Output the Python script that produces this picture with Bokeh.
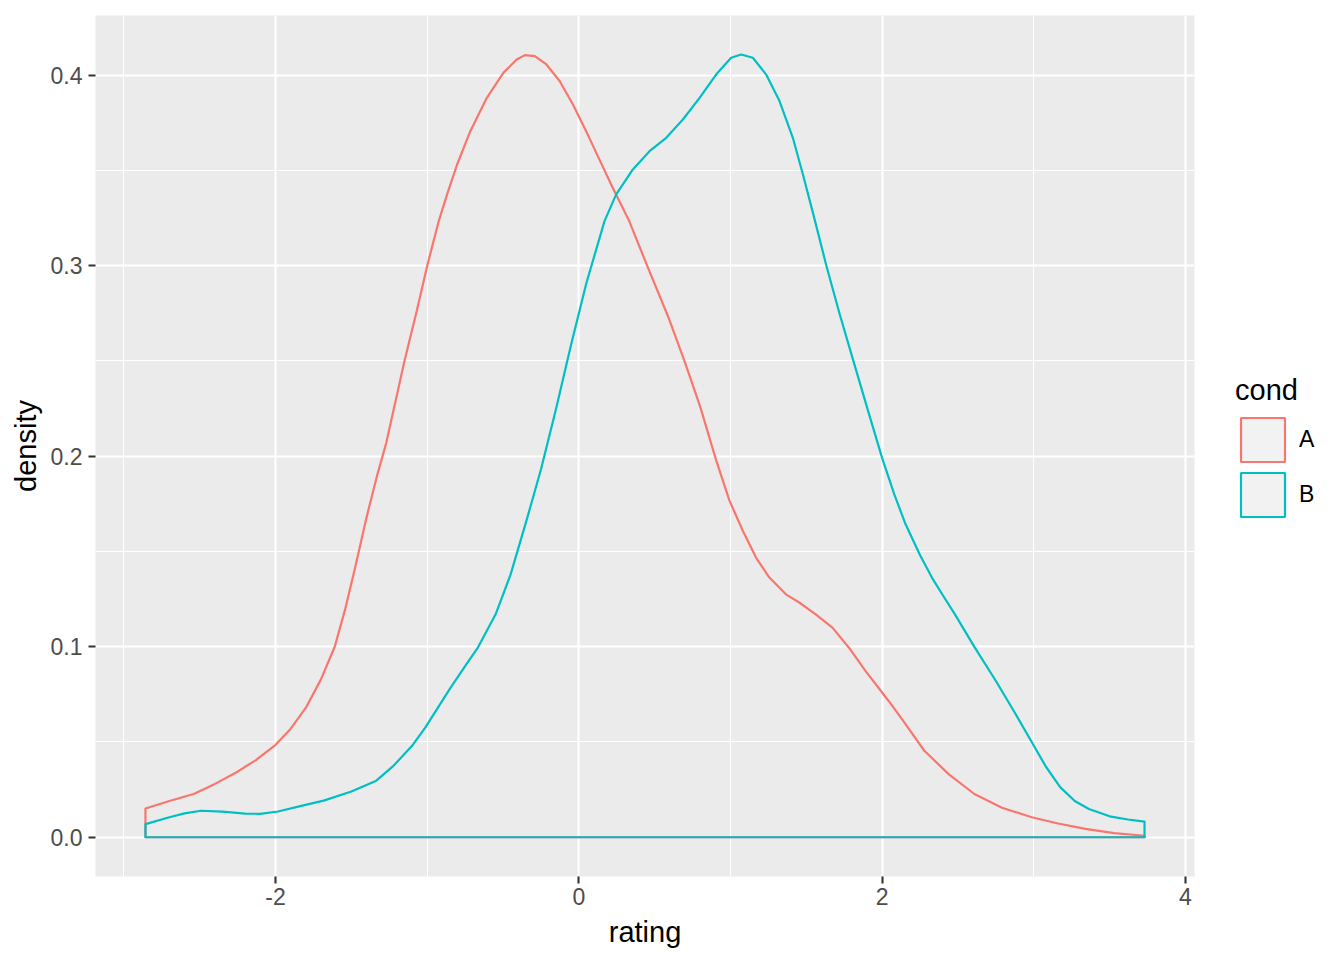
from bokeh.plotting import figure
from bokeh.layouts import row
from bokeh.models import Range1d, FixedTicker, Legend, LegendItem, NumeralTickFormatter
from bokeh.embed import file_html
from bokeh.resources import INLINE

# ---------------- data ----------------
cond_levels = ["A", "B"]
cond_colors = ["#F8766D", "#00BFC4"]

x_ticks = [-2, 0, 2, 4]
x_minor = [-3, -1, 1, 3]
y_ticks = [0.0, 0.1, 0.2, 0.3, 0.4]
y_minor = [0.05, 0.15, 0.25, 0.35]

rating_A = [-2.858, -2.70, -2.54, -2.40, -2.26, -2.13, -2.00, -1.90, -1.80, -1.70,
            -1.61, -1.54, -1.475, -1.40, -1.33, -1.27, -1.15, -1.07, -1.00, -0.924,
            -0.869, -0.803, -0.716, -0.607, -0.498, -0.41, -0.356, -0.29, -0.214, -0.127,
            -0.039, 0.048, 0.135, 0.223, 0.332, 0.45, 0.587, 0.696, 0.80, 0.906,
            0.993, 1.081, 1.168, 1.256, 1.365, 1.453, 1.562, 1.672, 1.781, 1.891,
            2.044, 2.14, 2.278, 2.44, 2.608, 2.79, 2.986, 3.16, 3.34, 3.53, 3.730]
density_A = [0.0151, 0.0190, 0.0227, 0.0280, 0.0340, 0.0405, 0.0485, 0.0570, 0.0680, 0.0830,
             0.1000, 0.1200, 0.1417, 0.1680, 0.1900, 0.2070, 0.2500, 0.2760, 0.3000, 0.3234,
             0.3374, 0.3531, 0.3706, 0.3881, 0.4012, 0.4082, 0.4105, 0.4100, 0.4056, 0.3969,
             0.3846, 0.3706, 0.3558, 0.3409, 0.3234, 0.3000, 0.2736, 0.2500, 0.2260, 0.1977,
             0.1767, 0.1609, 0.1468, 0.1363, 0.1275, 0.1232, 0.1170, 0.1100, 0.0995, 0.0872,
             0.0714, 0.0610, 0.0454, 0.0330, 0.0227, 0.0155, 0.0105, 0.0072, 0.0044, 0.0022, 0.0008]

rating_B = [-2.858, -2.70, -2.60, -2.493, -2.35, -2.20, -2.10, -1.984, -1.83, -1.683,
            -1.50, -1.336, -1.221, -1.10, -1.012, -0.85, -0.74, -0.665, -0.549, -0.45,
            -0.35, -0.25, -0.15, -0.05, 0.05, 0.169, 0.246, 0.356, 0.466, 0.576,
            0.686, 0.796, 0.905, 1.004, 1.07, 1.147, 1.235, 1.323, 1.411, 1.477,
            1.549, 1.632, 1.72, 1.81, 1.91, 2.00, 2.08, 2.153, 2.25, 2.328, 2.40,
            2.48, 2.608, 2.75, 2.87, 2.986, 3.08, 3.175, 3.27, 3.363, 3.50, 3.62, 3.730]
density_B = [0.0069, 0.0105, 0.0125, 0.0139, 0.0135, 0.0124, 0.0123, 0.0135, 0.0165, 0.0192,
             0.0240, 0.0297, 0.0376, 0.0480, 0.0577, 0.0780, 0.0910, 0.0997, 0.1170, 0.1380,
             0.1650, 0.1930, 0.2250, 0.2590, 0.2910, 0.3234, 0.3374, 0.3505, 0.3601, 0.3671,
             0.3767, 0.3881, 0.4003, 0.4091, 0.4108, 0.4091, 0.4003, 0.3864, 0.3671, 0.3480,
             0.3260, 0.3000, 0.2745, 0.2500, 0.2230, 0.1990, 0.1800, 0.1645, 0.1480, 0.1363, 0.1270,
             0.1170, 0.0999, 0.0820, 0.0660, 0.0500, 0.0370, 0.0262, 0.0190, 0.0148, 0.0110, 0.0093, 0.0082]

series = [(rating_A, density_A), (rating_B, density_B)]

FONT = "Liberation Sans"

p = figure(width=1200, height=960, output_backend="svg", toolbar_location=None,
           x_range=Range1d(-3.1875, 4.0595), y_range=Range1d(-0.0206, 0.4313),
           min_border_left=95, min_border_right=6, min_border_top=15, min_border_bottom=84)

p.background_fill_color = "#EBEBEB"
p.border_fill_color = "white"
p.outline_line_color = None

p.xaxis.ticker = FixedTicker(ticks=x_ticks, minor_ticks=x_minor)
p.yaxis.ticker = FixedTicker(ticks=y_ticks, minor_ticks=y_minor)
p.xaxis.formatter = NumeralTickFormatter(format="0")
p.yaxis.formatter = NumeralTickFormatter(format="0.0")

for g in (p.xgrid, p.ygrid):
    g.grid_line_color = "white"
    g.grid_line_width = 2.1
    g.minor_grid_line_color = "white"
    g.minor_grid_line_width = 1.05

for ax in (p.xaxis, p.yaxis):
    ax.axis_line_color = None
    ax.major_tick_line_color = "#333333"
    ax.major_tick_line_width = 2.1
    ax.major_tick_out = 7
    ax.major_tick_in = 0
    ax.minor_tick_line_color = None
    ax.major_label_text_font = FONT
    ax.major_label_text_font_size = "23px"
    ax.major_label_text_color = "#4D4D4D"
    ax.axis_label_text_font = FONT
    ax.axis_label_text_font_size = "29px"
    ax.axis_label_text_font_style = "normal"
    ax.axis_label_text_color = "black"

p.xaxis.axis_label = "rating"
p.yaxis.axis_label = "density"
p.xaxis.major_label_standoff = 4
p.yaxis.major_label_standoff = 6
p.xaxis.axis_label_standoff = 8
p.yaxis.axis_label_standoff = 6

for (xs, ys), col in zip(series, cond_colors):
    px = [xs[0]] + list(xs) + [xs[-1]]
    py = [0.0] + list(ys) + [0.0]
    p.patch(px, py, fill_color=None, line_color=col, line_width=2.2, line_join="round")

# legend panel (separate figure so that it is not clipped)
lf = figure(width=144, height=960, output_backend="svg", toolbar_location=None,
            x_range=Range1d(0, 1), y_range=Range1d(0, 1),
            min_border_left=0, min_border_right=0, min_border_top=0, min_border_bottom=0)
lf.axis.visible = False
lf.grid.visible = False
lf.outline_line_color = None
lf.background_fill_color = "white"
lf.border_fill_color = "white"

items = []
for lvl, col in zip(cond_levels, cond_colors):
    # key glyph only; its single quad lies outside the visible range
    key = lf.quad(left=[5], right=[6], top=[6], bottom=[5], fill_color="#F2F2F2",
                  line_color=col, line_width=2.2)
    items.append(LegendItem(label=lvl, renderers=[key]))

legend = Legend(items=items, location=(35, 354), title="cond",
                title_text_font=FONT, title_text_font_size="29px", title_text_font_style="normal",
                title_text_color="black", title_standoff=5,
                label_text_font=FONT, label_text_font_size="23px", label_text_color="black",
                label_standoff=9, glyph_width=55, glyph_height=55, spacing=0,
                padding=0, margin=0, border_line_color=None, background_fill_alpha=0)
lf.add_layout(legend)

layout = row(p, lf, spacing=0)
open("out.html", "w").write(file_html(layout, INLINE))
